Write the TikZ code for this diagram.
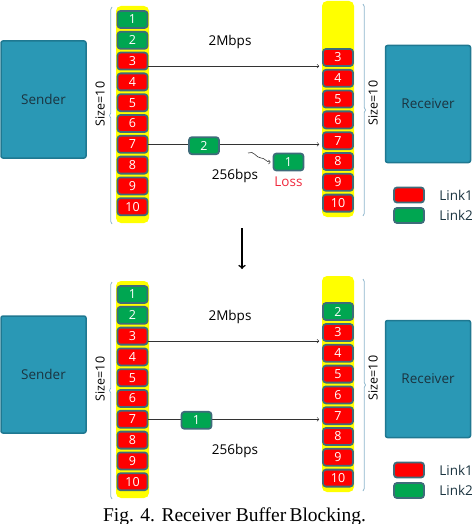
\documentclass[tikz,border=0pt]{standalone}
\usepackage{fontspec}
\setmainfont{Liberation Serif}
\setsansfont{Open Sans}
\usetikzlibrary{arrows,positioning,decorations.pathreplacing}
\definecolor{hostfill}{HTML}{2A98B5}
\definecolor{hostedge}{HTML}{1F7891}
\definecolor{celledge}{HTML}{3E6C7A}
\definecolor{linkred}{HTML}{FF0000}
\definecolor{linkgreen}{HTML}{00A651}
\definecolor{bufyellow}{HTML}{FFFF00}
\definecolor{bracecol}{HTML}{8DB6CC}
\definecolor{darktext}{HTML}{1B3440}
\definecolor{losscol}{HTML}{F0283C}
\tikzset{
  host/.style={draw=hostedge, line width=1.5pt, fill=hostfill, rounded corners=2pt,
    minimum width=85pt, minimum height=117pt, text=darktext,
    font=\sffamily\fontsize{13.5}{16}\selectfont},
  cell/.style={draw=celledge, line width=1.8pt, rounded corners=3pt, fill=#1,
    minimum width=30pt, minimum height=17pt, inner sep=0pt, text=white,
    font=\sffamily\fontsize{12.5}{14}\selectfont},
  buffer/.style={fill=bufyellow, rounded corners=5pt},
  sizebrace/.style={draw=bracecol, line width=0.8pt, decorate, decoration={brace, amplitude=2.5pt}},
  sizelabel/.style={rotate=90, font=\sffamily\fontsize{12.5}{14}\selectfont},
  rate/.style={font=\sffamily\fontsize{13.5}{16}\selectfont},
  link/.style={draw=black!80, line width=0.6pt, shorten >=3pt},
}

\begin{document}
\begin{tikzpicture}[x=1pt, y=-1pt]
  \useasboundingbox (0,0) rectangle (474,524);
  % the two panels share the same frame
  \foreach \p/\dy in {a/0, b/275} {
    % draw the hosts
    \node[host] (sender\p) at (43.5, 99.5+\dy) {Sender};
    \node[host] (receiver\p) at (428, 104+\dy) {Receiver};
    % draw the buffers
    \fill[buffer] (116, 6+\dy) rectangle (149, 223+\dy);
    \fill[buffer] (322, 1+\dy) rectangle (354, 217+\dy);
    \foreach \i/\c in {1/green,2/green,3/red,4/red,5/red,6/red,7/red,8/red,9/red,10/red}
      \node[cell=link\c] (s\p\i) at (132.5, {19.5+20.8*(\i-1)+\dy}) {\i};
    \foreach \i in {3,...,10}
      \node[cell=linkred] (r\p\i) at (338, {57.5+20.8*(\i-3)+\dy}) {\i};
    % draw the size braces
    \draw[sizebrace] (112, 224+\dy) -- (112, 7+\dy);
    \node[sizelabel] at (100, 104+\dy) {Size=10};
    \draw[sizebrace] (363, 4+\dy) -- (363, 216+\dy);
    \node[sizelabel] at (373, 103+\dy) {Size=10};
    % draw the links
    \draw[link, ->] ([yshift=-5pt]s\p3.east) -- ([yshift=-5pt]s\p3.east -| r\p3.west);
    \draw[link, ->] (s\p7.east) -- (s\p7.east -| r\p7.west);
    \node[rate] at (230, 42+\dy) {2Mbps};
    \node[rate] at (235, 176+\dy) {256bps};
    % draw the legend
    \node[cell=linkred, minimum height=15pt] (key\p1) at (409, 195+\dy) {};
    \node[cell=linkgreen, minimum height=15pt] (key\p2) at (409, 215.5+\dy) {};
    \node[rate, text=darktext, right=11pt of key\p1] {Link1};
    \node[rate, text=darktext, right=11pt of key\p2] {Link2};
  }
  % packets of the first panel
  \node[cell=linkgreen] (packa) at (204, 145.7) {2};
  \node[cell=linkgreen] (lost) at (288.5, 162) {1};
  \node[rate, text=losscol, below=2pt of lost] (loss) {Loss};
  \coordinate (wave) at (248, 153);
  \draw[->, black!80, line width=0.6pt, shorten >=2pt] (wave) .. controls (254, 150) and (256, 158) .. (261, 158)
    .. controls (265, 158) and (266, 162) .. (lost.west);
  % packets of the second panel
  \node[cell=linkgreen] (rb2) at (338, 311.5) {2};
  \node[cell=linkgreen] (packb) at (196.5, 420.3) {1};
  % draw the step arrow
  \coordinate (from) at (242, 228);
  \coordinate (to) at (242, 269);
  \draw[->, line width=1.6pt] (from) -- (to);
  \node[anchor=base, font=\fontsize{19.5}{22}\selectfont] (caption) at (234.5, 521) {Fig. 4. Receiver Buffer\,Blocking.};
\end{tikzpicture}
\end{document}
